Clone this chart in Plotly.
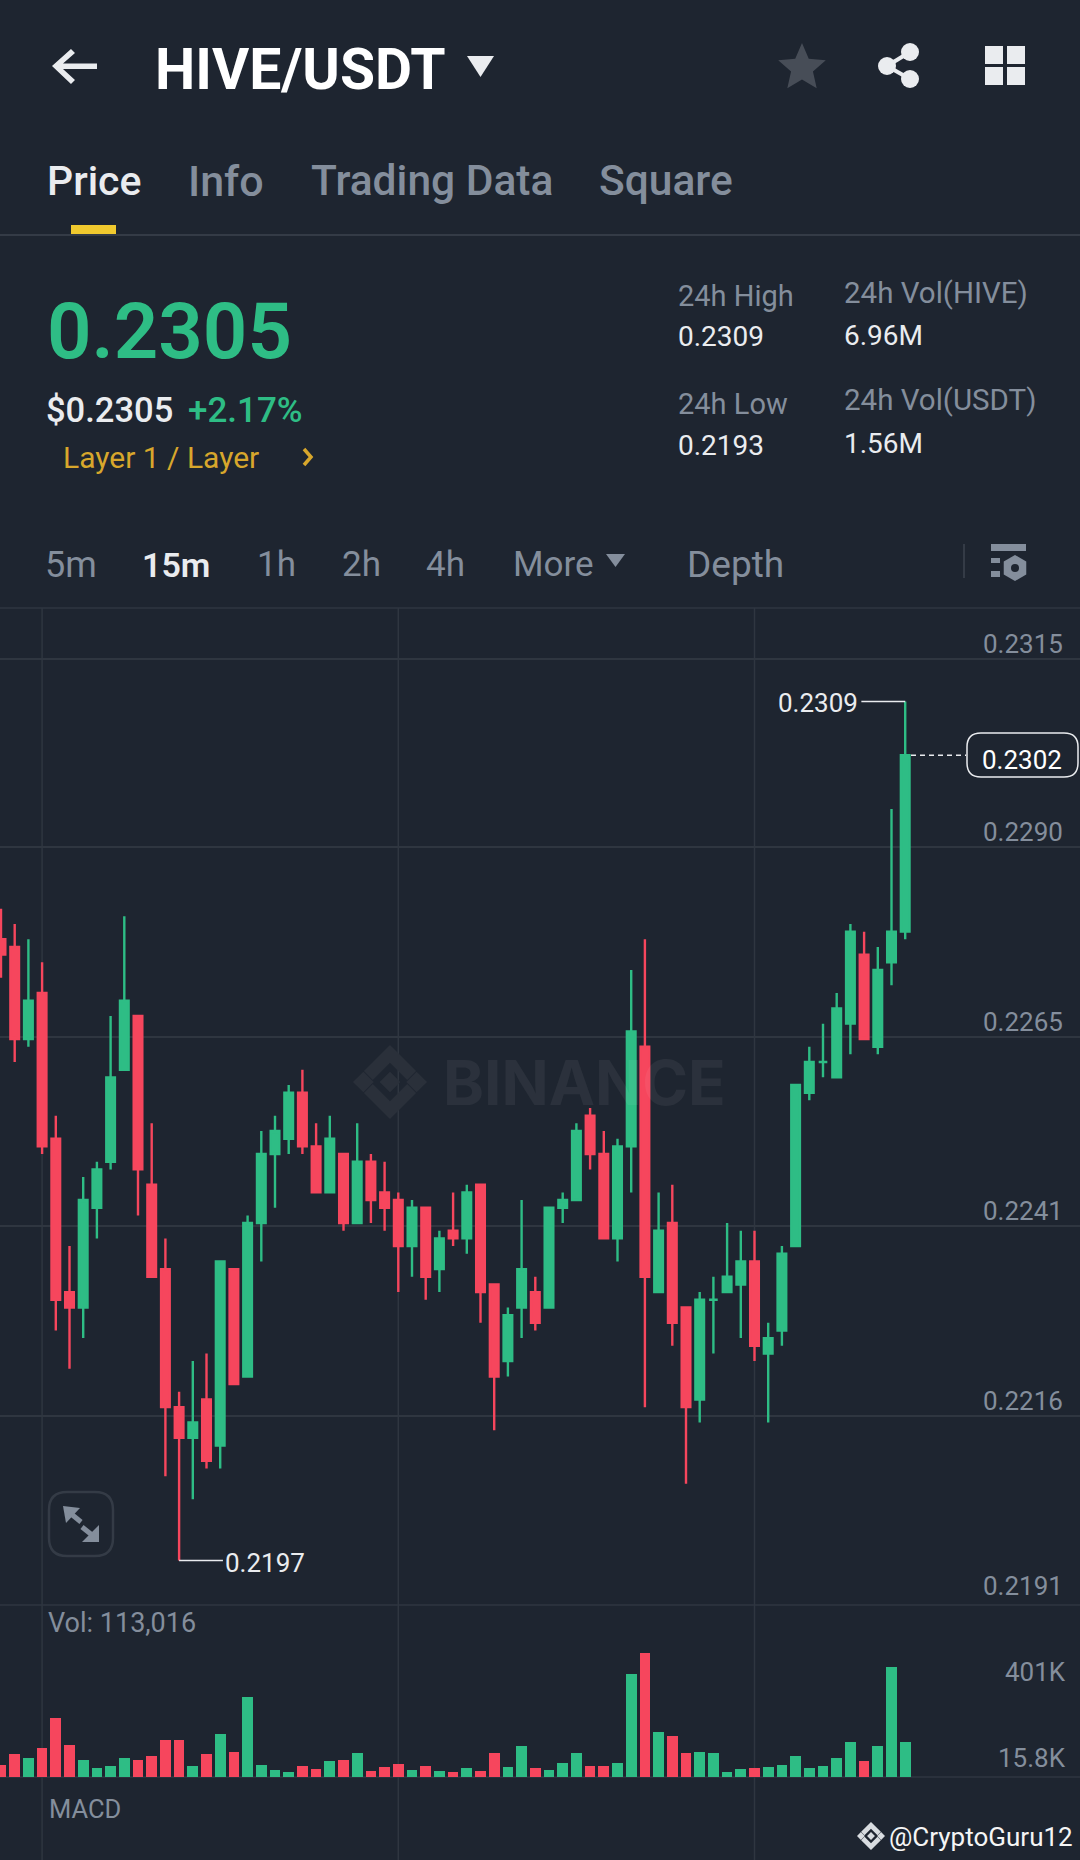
import math
import plotly.graph_objects as go
from plotly.subplots import make_subplots

W, H = 1080, 1860

# candles (one every 15m)
opens = [.2278, .2277, .2265, .2271, .2252, .2232, .2230, .2243, .2249, .2261,
         .2268, .2246, .2235, .2217, .2213, .2218, .2212, .2235, .2221, .2241,
         .2250, .2252, .2258, .2251, .2245, .2250, .2241, .2249, .2245, .2244,
         .2238, .2243, .2235, .2240, .2239, .2246, .2233, .2223, .2230, .2232,
         .2230, .2243, .2244, .2255, .2250, .2239, .2251, .2264, .2232, .2241,
         .2230, .2218, .2231, .2232, .2233, .2236, .2224, .2227, .2238, .2258,
         .2262, .2260, .2267, .2276, .2264, .2275, .2279]
closes = [.2276, .2265, .2270, .2251, .2231, .2230, .2244, .2248, .2260, .2270,
          .2248, .2234, .2217, .2213, .2215, .2210, .2236, .2220, .2241, .2250,
          .2253, .2258, .2251, .2245, .2252, .2241, .2249, .2244, .2243, .2238,
          .2243, .2234, .2239, .2239, .2245, .2232, .2221, .2229, .2235, .2228,
          .2243, .2244, .2253, .2250, .2239, .2251, .2266, .2234, .2240, .2228,
          .2217, .2231, .2231, .2234, .2236, .2225, .2226, .2237, .2259, .2262,
          .2262, .2269, .2279, .2265, .2274, .2279, .2302]
highs = [.2282, .2280, .2278, .2275, .2255, .2238, .2247, .2249, .2268, .2281,
         .2268, .2254, .2239, .2219, .2223, .2224, .2236, .2235, .2242, .2253,
         .2255, .2259, .2261, .2254, .2255, .2250, .2254, .2250, .2249, .2245,
         .2244, .2243, .2240, .2245, .2246, .2246, .2233, .2230, .2244, .2234,
         .2243, .2245, .2254, .2256, .2253, .2252, .2274, .2278, .2245, .2246,
         .2230, .2232, .2234, .2241, .2240, .2240, .2228, .2238, .2259, .2264,
         .2267, .2271, .2280, .2279, .2277, .2295, .2309]
lows = [.2273, .2262, .2264, .2250, .2227, .2222, .2226, .2239, .2248, .2261,
        .2242, .2234, .2208, .2197, .2205, .2209, .2209, .2220, .2221, .2236,
        .2243, .2250, .2250, .2245, .2245, .2240, .2241, .2241, .2240, .2232,
        .2234, .2231, .2232, .2238, .2237, .2228, .2214, .2221, .2226, .2227,
        .2230, .2241, .2244, .2248, .2239, .2236, .2245, .2217, .2232, .2225,
        .2207, .2215, .2224, .2232, .2226, .2223, .2215, .2225, .2238, .2257,
        .2260, .2260, .2263, .2265, .2263, .2272, .2278]
volumes = [38700, 75300, 61300, 93600, 189400, 102200, 54900, 29100, 35500, 62400,
           54900, 66700, 118400, 118400, 34400, 74200, 137700, 79600, 259300, 38700,
           21500, 15800, 34400, 25800, 51600, 54900, 76400, 18300, 32300, 42000,
           21500, 36600, 19400, 17200, 28000, 19400, 78500, 32300, 100100, 28000,
           22600, 45200, 76400, 34400, 34400, 45200, 333600, 401000, 146300, 132300,
           77500, 79600, 76400, 15800, 25800, 29100, 31200, 37700, 67800, 30100,
           36600, 60300, 114100, 52700, 99000, 354000, 113016]

price_ticks = [.23146, .2290, .22652, .22406, .22159, .21912]
price_labels = ["0.2315", "0.2290", "0.2265", "0.2241", "0.2216", "0.2191"]
vertical_grid = [3, 29, 55]
last_price = .2302

BG = "#1e2530"
GRID = "#2f3640"
GREEN = "#2ebd85"
RED = "#f6465d"
WHITE = "#eaecef"
GREY = "#848e9c"
GOLD = "#d8a72c"
FONT = "Roboto"

x = list(range(len(opens)))


def fx(px):
    return px / W


def fy(px):
    return 1 - px / H


def txt(px, py, s, size, color=GREY, weight=400, anchor="left"):
    fig.add_annotation(x=fx(px), y=fy(py), xref="paper", yref="paper", text=s, showarrow=False,
                       xanchor=anchor, yanchor="middle", borderpad=0,
                       font=dict(family=FONT, size=size, color=color, weight=weight))


def poly(points, color, close=True, width=0, line=None, dash=None):
    path = "M " + " L ".join(f"{fx(a):.5f},{fy(b):.5f}" for a, b in points) + (" Z" if close else "")
    fig.add_shape(type="path", path=path, xref="paper", yref="paper", layer="below" if line is None else "above",
                  fillcolor=color if close else None,
                  line=dict(width=width, color=line or color, dash=dash))


def seg(x0, y0, x1, y1, color=GRID, width=1.5, dash=None, layer="below"):
    fig.add_shape(type="line", xref="paper", yref="paper", x0=fx(x0), x1=fx(x1), y0=fy(y0), y1=fy(y1),
                  layer=layer, line=dict(color=color, width=width, dash=dash))


def rounded(x0, y0, x1, y1, r, line, width, fill=None):
    path = (f"M {fx(x0 + r):.5f},{fy(y0):.5f} L {fx(x1 - r):.5f},{fy(y0):.5f} "
            f"Q {fx(x1):.5f},{fy(y0):.5f} {fx(x1):.5f},{fy(y0 + r):.5f} L {fx(x1):.5f},{fy(y1 - r):.5f} "
            f"Q {fx(x1):.5f},{fy(y1):.5f} {fx(x1 - r):.5f},{fy(y1):.5f} L {fx(x0 + r):.5f},{fy(y1):.5f} "
            f"Q {fx(x0):.5f},{fy(y1):.5f} {fx(x0):.5f},{fy(y1 - r):.5f} L {fx(x0):.5f},{fy(y0 + r):.5f} "
            f"Q {fx(x0):.5f},{fy(y0):.5f} {fx(x0 + r):.5f},{fy(y0):.5f} Z")
    fig.add_shape(type="path", path=path, xref="paper", yref="paper", layer="above",
                  fillcolor=fill, line=dict(color=line, width=width))


def diamond_logo(cx, cy, s, color):
    # the four chevrons and the centre of the exchange logo
    d = s * 0.28
    poly([(cx, cy - d), (cx + d, cy), (cx, cy + d), (cx - d, cy)], color)
    poly([(cx - s, cy), (cx - s + d, cy - d), (cx - s + 2 * d, cy), (cx - s + d, cy + d)], color)
    poly([(cx + s, cy), (cx + s - d, cy - d), (cx + s - 2 * d, cy), (cx + s - d, cy + d)], color)
    t = s * 0.24
    poly([(cx, cy - s), (cx + 2 * t + d * .8, cy - s + 2 * t + d * .8), (cx + t + d * .8, cy - s + 3 * t + d * .8),
          (cx, cy - s + 2 * t), (cx - t - d * .8, cy - s + 3 * t + d * .8), (cx - 2 * t - d * .8, cy - s + 2 * t + d * .8)], color)
    poly([(cx, cy + s), (cx + 2 * t + d * .8, cy + s - 2 * t - d * .8), (cx + t + d * .8, cy + s - 3 * t - d * .8),
          (cx, cy + s - 2 * t), (cx - t - d * .8, cy + s - 3 * t - d * .8), (cx - 2 * t - d * .8, cy + s - 2 * t - d * .8)], color)


fig = make_subplots(rows=2, cols=1, shared_xaxes=True, vertical_spacing=0)

fig.add_trace(go.Candlestick(x=x, open=opens, high=highs, low=lows, close=closes,
                             increasing=dict(line=dict(color=GREEN, width=2.4), fillcolor=GREEN),
                             decreasing=dict(line=dict(color=RED, width=2.4), fillcolor=RED),
                             whiskerwidth=0, hoverinfo="skip", showlegend=False), row=1, col=1)

bar_colors = [GREEN if c >= o else RED for o, c in zip(opens, closes)]
fig.add_trace(go.Bar(x=x, y=volumes, width=0.78, marker=dict(color=bar_colors, line=dict(width=0)),
                     hoverinfo="skip", showlegend=False), row=2, col=1)

# candle i sits at 1 + 13.7 * i pixels
x_range = [-1 / 13.7, (W - 1) / 13.7]
fig.update_xaxes(range=x_range, showgrid=False, zeroline=False, showticklabels=False, ticks="",
                 rangeslider=dict(visible=False), fixedrange=True)
fig.update_layout(
    width=W, height=H, margin=dict(l=0, r=0, t=0, b=0), paper_bgcolor=BG, plot_bgcolor=BG, showlegend=False,
    font=dict(family=FONT), boxgap=0.1, bargap=0,
    xaxis=dict(domain=[0, 1]),
    xaxis2=dict(domain=[0, 1]),
    yaxis=dict(domain=[fy(1605), fy(608)], range=[.21912, .23212], tickvals=price_ticks, showticklabels=False,
               gridcolor=GRID, gridwidth=1.5, zeroline=False, fixedrange=True),
    yaxis2=dict(domain=[fy(1777), fy(1605)], range=[0, 555000], tickvals=[], showgrid=False, showticklabels=False,
                zeroline=False, fixedrange=True),
)

# price scale labels sit just above their grid lines
for val, lab in zip(price_ticks, price_labels):
    shift = 19 if lab == "0.2191" else 15
    fig.add_annotation(x=fx(1064), y=val, xref="paper", yref="y", text=lab, showarrow=False, xanchor="right",
                       yanchor="middle", yshift=shift, borderpad=0, font=dict(family=FONT, size=26, color=GREY))

# chart frame and vertical grid
seg(0, 608, W, 608)
seg(0, 1605, W, 1605)
seg(0, 1777, W, 1777)
seg(0, 235, W, 235, "#343b46", 2)
for i in vertical_grid:
    px_i = 1 + 13.7 * i
    seg(px_i, 608, px_i, H)

# watermark behind the candles
diamond_logo(390, 1082, 37, "#2a303a")
fig.add_annotation(x=fx(584), y=fy(1082), xref="paper", yref="paper", text="BINANCE", showarrow=False,
                   xanchor="center", yanchor="middle",
                   font=dict(family="Inter", size=62, color="rgba(255,255,255,0.06)", weight=700))

# header
poly([(52, 66), (71, 49), (75, 53), (63, 63.5), (97, 63.5), (97, 69), (63, 69), (75, 80), (71, 84)], WHITE)
txt(154, 69, "HIVE/USDT", 57, "#ffffff", 700)
poly([(467, 56), (494, 56), (480.5, 77)], WHITE)
star = []
for k in range(10):
    r = 25 if k % 2 == 0 else 11.5
    a = -math.pi / 2 + k * math.pi / 5
    star.append((802 + r * math.cos(a), 68 + r * math.sin(a)))
poly(star, "#474d57")
for a, b in [(910, 52), (887, 66), (910, 79)]:
    fig.add_shape(type="circle", xref="paper", yref="paper", x0=fx(a - 9), x1=fx(a + 9), y0=fy(b + 9), y1=fy(b - 9),
                  fillcolor=WHITE, line=dict(width=0), layer="below")
seg(910, 52, 887, 66, WHITE, 4)
seg(887, 66, 910, 79, WHITE, 4)
poly([(985, 46), (1003, 46), (1003, 64), (985, 64)], WHITE)
poly([(1007, 46), (1025, 46), (1025, 64), (1007, 64)], WHITE)
poly([(985, 67), (1003, 67), (1003, 85), (985, 85)], WHITE)
poly([(1007, 67), (1025, 67), (1025, 85), (1007, 85)], WHITE)

# tabs
txt(46, 181, "Price", 41, WHITE, 500)
txt(187, 181, "Info", 43, GREY, 500)
txt(310, 181, "Trading Data", 42.5, GREY, 500)
txt(598, 181, "Square", 42.5, GREY, 500)
poly([(71, 225), (116, 225), (116, 234), (71, 234)], "#f0c92e")

# price block
txt(46, 331, "0.2305", 78, GREEN, 600)
txt(45, 410, "$0.2305", 34.5, WHITE, 500)
txt(187, 410, "+2.17%", 35, GREEN, 500)
txt(62, 457, "Layer 1 / Layer", 30, GOLD)
poly([(304, 449), (311, 457), (304, 465)], None, close=False, width=3.5, line=GOLD)
txt(677, 296, "24h High", 29)
txt(677, 337, "0.2309", 28, WHITE)
txt(677, 404, "24h Low", 29)
txt(677, 446, "0.2193", 28, WHITE)
txt(843, 293, "24h Vol(HIVE)", 29.5)
txt(843, 335, "6.96M", 28, WHITE)
txt(843, 400, "24h Vol(USDT)", 29.5)
txt(843, 443, "1.56M", 28, WHITE)

# interval row
txt(44, 565, "5m", 36)
txt(141, 565, "15m", 34, WHITE, 600)
txt(256, 565, "1h", 35)
txt(341, 565, "2h", 35)
txt(425, 565, "4h", 35)
txt(512, 565, "More", 35)
poly([(606, 554), (625, 554), (615.5, 567)], GREY)
txt(686, 565, "Depth", 37)
seg(964, 544, 964, 578, "#343b46", 2)
poly([(991, 544), (1026, 544), (1026, 551), (991, 551)], GREY)
poly([(991, 558), (1000, 558), (1000, 563), (991, 563)], GREY)
poly([(991, 571), (1000, 571), (1000, 577), (991, 577)], GREY)
hexagon = [(1015 + 13 * math.cos(math.pi / 6 + k * math.pi / 3), 568 + 13 * math.sin(math.pi / 6 + k * math.pi / 3)) for k in range(6)]
poly(hexagon, GREY)
fig.add_shape(type="circle", xref="paper", yref="paper", x0=fx(1011), x1=fx(1019), y0=fy(572), y1=fy(564),
              fillcolor=BG, line=dict(width=0), layer="above")

# extreme markers and last price tag
hi = max(highs)
lo = min(lows)
hi_i, lo_i = highs.index(hi), lows.index(lo)
fig.add_shape(type="line", xref="x", yref="y", x0=hi_i - 3.2, x1=hi_i, y0=hi, y1=hi, line=dict(color=WHITE, width=1.5))
fig.add_annotation(x=hi_i - 3.4, y=hi, xref="x", yref="y", text=f"{hi:.4f}", showarrow=False, xanchor="right",
                   yanchor="middle", yshift=-1, borderpad=0, font=dict(family=FONT, size=26, color=WHITE))
fig.add_shape(type="line", xref="x", yref="y", x0=lo_i, x1=lo_i + 3.2, y0=lo, y1=lo, line=dict(color=WHITE, width=1.5))
fig.add_annotation(x=lo_i + 3.3, y=lo, xref="x", yref="y", text=f"{lo:.4f}", showarrow=False, xanchor="left",
                   yanchor="middle", yshift=-2, borderpad=0, font=dict(family=FONT, size=26, color=WHITE))
fig.add_shape(type="line", xref="paper", yref="y", x0=fx(911), x1=fx(966), y0=last_price, y1=last_price,
              line=dict(color=WHITE, width=1.5, dash="5px,4px"))
rounded(967, 733, 1078, 777, 14, WHITE, 1.5, BG)
txt(1022, 760, f"{last_price:.4f}", 26, "#ffffff", anchor="center")

# expand button
rounded(49, 1492, 113, 1556, 18, "#343b46", 2.5)
poly([(63, 1506), (80, 1508), (66, 1523)], GREY)
poly([(99, 1542), (82, 1542), (99, 1525)], GREY)
seg(70, 1513, 81, 1522, GREY, 5, layer="above")
seg(82, 1527, 92, 1535, GREY, 5, layer="above")

# lower panes
txt(47, 1623, "Vol: 113,016", 27)
txt(48, 1809, "MACD", 25.5)
txt(1067, 1672, "401K", 26, anchor="right")
txt(1067, 1758, "15.8K", 26, anchor="right")

# footer tag
diamond_logo(871, 1836, 14, "#d8dce0")
txt(888, 1837, "@CryptoGuru12", 26, "#f5f5f5")

fig.write_html("out.html", config=dict(displayModeBar=False),
               post_script=f"document.body.style.margin='0';document.body.style.background='{BG}';")
